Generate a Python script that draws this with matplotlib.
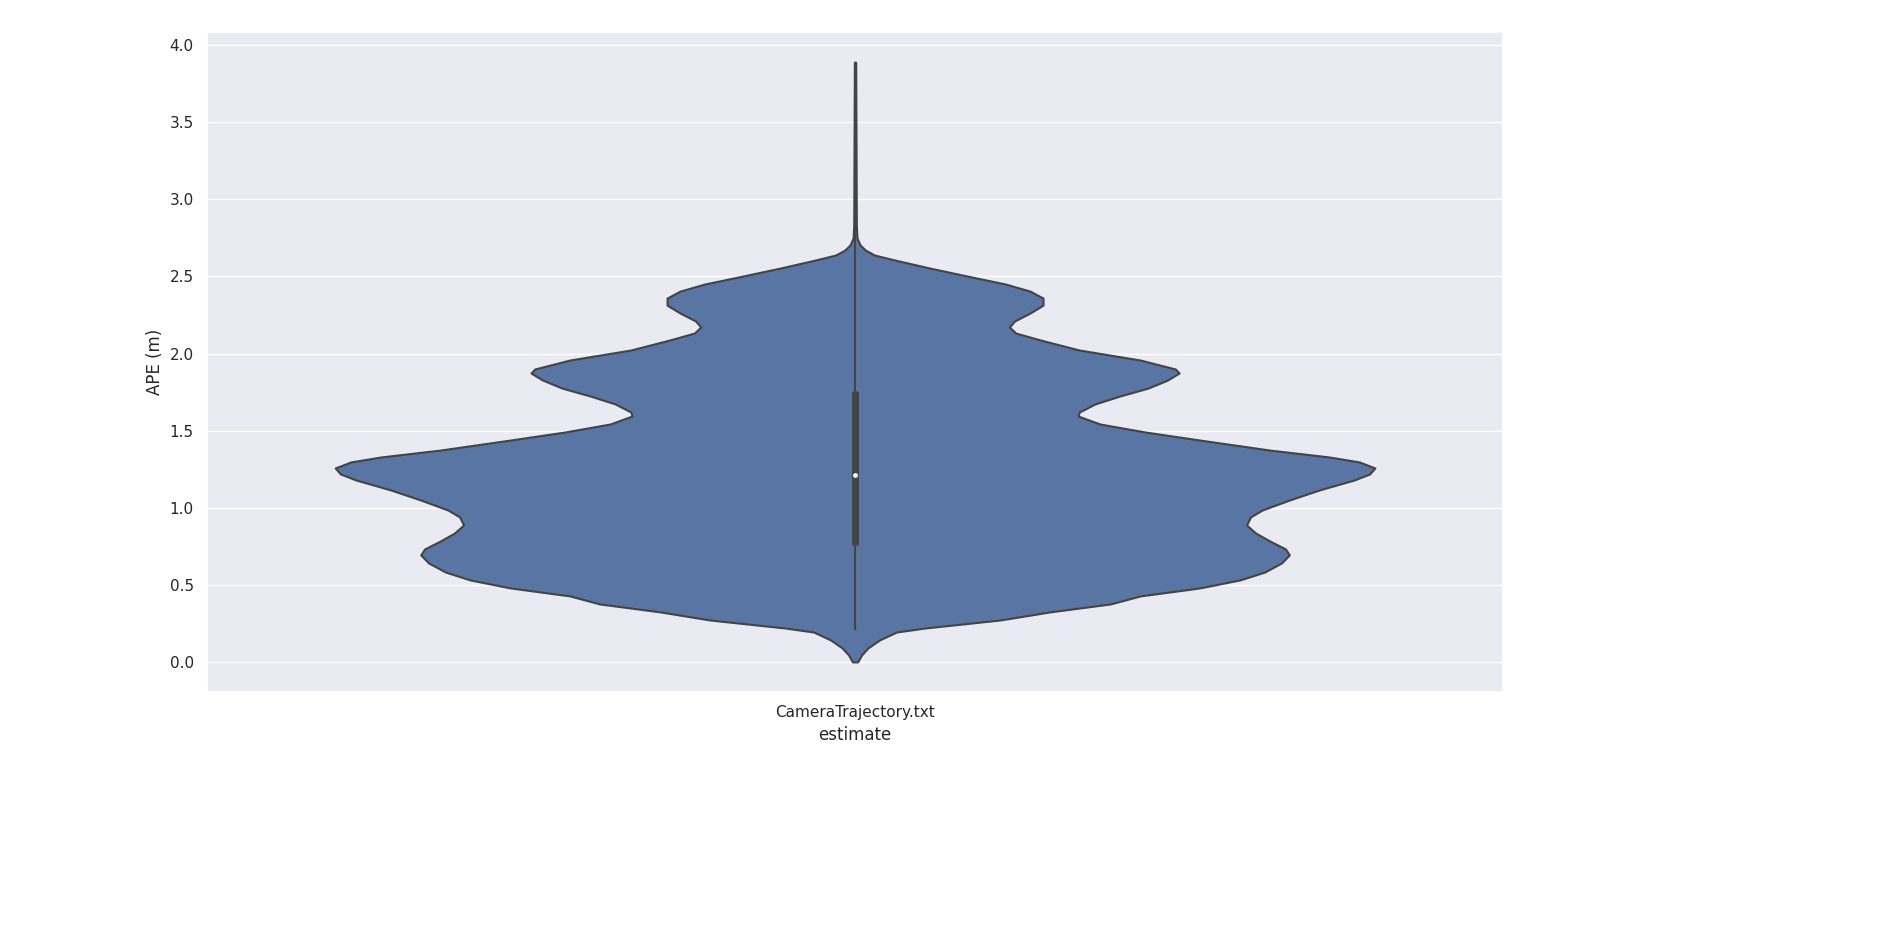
import numpy as np
import matplotlib
matplotlib.use("Agg")
import matplotlib.pyplot as plt
import seaborn as sns

# violin profile (APE value, half width in category units)
ape_levels = [0.00, 0.045, 0.091, 0.143, 0.194, 0.220, 0.272, 0.324, 0.376, 0.428,
              0.480, 0.532, 0.583, 0.642, 0.694, 0.733, 0.784, 0.836, 0.888, 0.940,
              0.985, 1.050, 1.115, 1.180, 1.219, 1.258, 1.297, 1.329, 1.374, 1.439,
              1.491, 1.543, 1.595, 1.621, 1.673, 1.724, 1.776, 1.828, 1.874, 1.900,
              1.958, 2.023, 2.088, 2.133, 2.172, 2.211, 2.263, 2.314, 2.360, 2.405,
              2.451, 2.502, 2.554, 2.606, 2.639, 2.671, 2.703, 2.749, 2.833, 3.890]
half_width = [0.002, 0.005, 0.010, 0.019, 0.032, 0.054, 0.112, 0.150, 0.197, 0.220,
              0.266, 0.297, 0.316, 0.329, 0.335, 0.332, 0.320, 0.309, 0.302, 0.305,
              0.314, 0.335, 0.358, 0.385, 0.397, 0.401, 0.389, 0.366, 0.320, 0.266,
              0.224, 0.189, 0.172, 0.173, 0.185, 0.204, 0.226, 0.241, 0.250, 0.247,
              0.220, 0.173, 0.143, 0.124, 0.119, 0.123, 0.135, 0.145, 0.145, 0.135,
              0.116, 0.087, 0.058, 0.031, 0.015, 0.008, 0.004, 0.0015, 0.001, 0.0005]

# box stats
whisker_low, q1, median, q3, whisker_high = 0.21, 0.76, 1.21, 1.76, 3.89
category = "CameraTrajectory.txt"

sns.set_theme(style="darkgrid")
fig = plt.figure(figsize=(18.98, 9.49), dpi=100)
ax = fig.add_axes([0.109, 0.271, 0.683, 0.695])

y = np.array(ape_levels)
w = np.array(half_width)
ax.fill_betweenx(y, -w, w, facecolor="#5875a4", edgecolor="#444444", linewidth=1.5, zorder=2)

ax.vlines(0, whisker_low, whisker_high, color="#444444", linewidth=1.5, zorder=3)
ax.vlines(0, q1, q3, color="#444444", linewidth=5, zorder=3)
ax.scatter([0], [median], s=6, color="white", zorder=4)

ax.set_xlim(-0.5, 0.5)
ax.set_ylim(-0.194, 4.084)
ax.set_xticks([0])
ax.set_xticklabels([category])
ax.set_yticks(np.arange(0, 4.01, 0.5))
ax.set_xlabel("estimate")
ax.set_ylabel("APE (m)")
ax.grid(axis="x", visible=False)

fig.savefig("out.png", dpi=100)
